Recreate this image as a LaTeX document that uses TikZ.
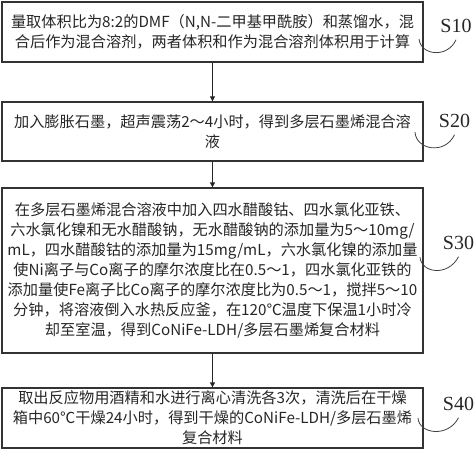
\documentclass[tikz,border=0pt]{standalone}
\usepackage{fontspec}
\setmainfont{Noto Sans CJK SC}
\newfontfamily\lblfont{Liberation Serif}
\usetikzlibrary{arrows.meta}

\begin{document}
\begin{tikzpicture}[x=1pt,y=-1pt]
  \useasboundingbox (0,0) rectangle (474,450);
  \tikzset{stepbox/.style={draw=black!80,line width=1.3pt,minimum width=421pt,inner sep=0pt,
             align=center,text=black!85,font=\fontsize{15.2}{20}\selectfont},
           lbl/.style={font=\lblfont\fontsize{20}{20}\selectfont,inner sep=0pt,outer sep=7pt,text=black!85},
           flow/.style={draw=black!85,line width=0.9pt,-{Triangle[length=5pt,width=5pt]}},
           lead/.style={draw=black!75,line width=0.8pt}}
  % steps
  \node[stepbox,minimum height=60pt] (b1) at (212.5,32)
    {量取体积比为8:2的DMF（N,N-二甲基甲酰胺）和蒸馏水，混\\
     合后作为混合溶剂，两者体积和作为混合溶剂体积用于计算};
  \node[stepbox,minimum height=59pt] (b2) at (212.5,131.5)
    {加入膨胀石墨，超声震荡2～4小时，得到多层石墨烯混合溶\\液};
  \node[stepbox,minimum height=165pt] (b3) at (212.5,270.5)
    {在多层石墨烯混合溶液中加入四水醋酸钴、四水氯化亚铁、\\
     六水氯化镍和无水醋酸钠，无水醋酸钠的添加量为5～10mg/\\
     mL，四水醋酸钴的添加量为15mg/mL，六水氯化镍的添加量\\
     使Ni离子与Co离子的摩尔浓度比在0.5～1，四水氯化亚铁的\\
     添加量使Fe离子比Co离子的摩尔浓度比为0.5～1，搅拌5～10\\
     分钟，将溶液倒入水热反应釜，在120℃温度下保温1小时冷\\
     却至室温，得到CoNiFe-LDH/多层石墨烯复合材料};
  \node[stepbox,minimum height=60pt] (b4) at (212.5,418)
    {取出反应物用酒精和水进行离心清洗各3次，清洗后在干燥\\
     箱中60℃干燥24小时，得到干燥的CoNiFe-LDH/多层石墨烯\\
     复合材料};
  \draw[flow] (b1.south) -- (b2.north);
  \draw[flow] (b2.south) -- (b3.north);
  \draw[flow] (b3.south) -- (b4.north);
  % labels
  \node[lbl] (s10) at (456,26) {S10};
  \node[lbl] (s20) at (454.5,121) {S20};
  \node[lbl] (s30) at (458.5,243) {S30};
  \node[lbl] (s40) at (458.5,404) {S40};
  \coordinate (c10) at (419,39);
  \coordinate (c20) at (415,132);
  \coordinate (c30) at (420,257);
  \coordinate (c40) at (418,418);
  \draw[lead] (c10) .. controls (421,56) and (448,58) .. (s10.south);
  \draw[lead] (c20) .. controls (416,150) and (445,155) .. (s20.south);
  \draw[lead] (c30) .. controls (421,273) and (448,277) .. (s30.south);
  \draw[lead] (c40) .. controls (419,434) and (448,438) .. (s40.south);
\end{tikzpicture}
\end{document}
